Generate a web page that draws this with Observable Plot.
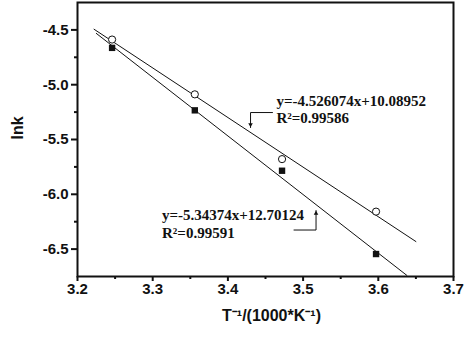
<!DOCTYPE html>
<html><head><meta charset="utf-8">
<script src="https://cdn.jsdelivr.net/npm/d3@7"></script>
<script src="https://cdn.jsdelivr.net/npm/@observablehq/plot@0.6"></script>
<style>body{margin:0;background:#fff} svg{display:block}</style>
</head><body><div id="chart"></div>
<script>
// data
const tempInv = [3.246, 3.356, 3.472, 3.597];
const lnkCircle = [-4.588, -5.088, -5.679, -6.158];
const lnkSquare = [-4.664, -5.234, -5.785, -6.545];
// fitted line end points
const fitCircleX = [3.222, 3.650];
const fitCircleY = [-4.494, -6.431];
const fitSquareX = [3.225, 3.638];
const fitSquareY = [-4.532, -6.740];
// ticks
const xTicks = [3.2, 3.3, 3.4, 3.5, 3.6, 3.7];
const xMinorTicks = [3.25, 3.35, 3.45, 3.55, 3.65];
const yTicks = [-6.5, -6.0, -5.5, -5.0, -4.5];
const yMinorTicks = [-6.25, -5.75, -5.25, -4.75];
// annotations
const eqLabels = ["y=-4.526074x+10.08952", "R²=0.99586", "y=-5.34374x+12.70124", "R²=0.99591"];
const eqX = [3.4646, 3.4646, 3.3124, 3.3124];
const eqY = [-5.194, -5.354, -6.239, -6.399];
const arrow1X = [3.4593, 3.4301, 3.4301];
const arrow1Y = [-5.254, -5.254, -5.391];
const arrow2X = [3.4879, 3.5172, 3.5172];
const arrow2Y = [-6.326, -6.326, -6.148];
const xLabel = "T⁻¹/(1000*K⁻¹)";
const yLabel = "lnk";

const pts = tempInv.map((x, i) => ({x, c: lnkCircle[i], s: lnkSquare[i]}));
const fit1 = fitCircleX.map((x, i) => ({x, y: fitCircleY[i]}));
const fit2 = fitSquareX.map((x, i) => ({x, y: fitSquareY[i]}));
const eq = eqLabels.map((t, i) => ({t, x: eqX[i], y: eqY[i]}));
const ar1 = arrow1X.map((x, i) => ({x, y: arrow1Y[i]}));
const ar2 = arrow2X.map((x, i) => ({x, y: arrow2Y[i]}));
const tip1 = ar1.slice(-1);
const tip2 = ar2.slice(-1);

const sans = "Liberation Sans, Arial, sans-serif";
const serif = "Liberation Serif, Times New Roman, serif";

const chart = Plot.plot({
  width: 474,
  height: 340,
  marginLeft: 77,
  marginRight: 21,
  marginTop: 2,
  marginBottom: 64,
  style: {fontFamily: sans, background: "#fff", color: "#111"},
  x: {domain: [3.2, 3.7]},
  y: {domain: [-6.75, -4.25]},
  marks: [
    Plot.axisX(xTicks, {tickSize: 5, tickPadding: 2, strokeWidth: 2, fontSize: 15, fontWeight: "bold", label: null, tickFormat: d => d.toFixed(1)}),
    Plot.axisX(xMinorTicks, {tickSize: 3, strokeWidth: 2, text: null, label: null}),
    Plot.axisY(yTicks, {tickSize: 6, tickPadding: 3, strokeWidth: 2, fontSize: 15, fontWeight: "bold", label: null, tickFormat: d => d.toFixed(1)}),
    Plot.axisY(yMinorTicks, {tickSize: 3, strokeWidth: 2, text: null, label: null}),
    Plot.frame({stroke: "#111", strokeWidth: 2}),
    Plot.line(fit1, {x: "x", y: "y", stroke: "#111", strokeWidth: 1}),
    Plot.line(fit2, {x: "x", y: "y", stroke: "#111", strokeWidth: 1}),
    Plot.dot(pts, {x: "x", y: "c", r: 3.6, stroke: "#111", fill: "#fff", strokeWidth: 1}),
    Plot.dot(pts, {x: "x", y: "s", r: 3.6, symbol: "square", fill: "#111"}),
    Plot.line(ar1, {x: "x", y: "y", stroke: "#111", strokeWidth: 1}),
    Plot.line(ar2, {x: "x", y: "y", stroke: "#111", strokeWidth: 1}),
    Plot.dot(tip1, {x: "x", y: "y", symbol: "triangle2", r: 2.2, rotate: 180, dy: -3, fill: "#111"}),
    Plot.dot(tip2, {x: "x", y: "y", symbol: "triangle2", r: 2.2, dy: 3, fill: "#111"}),
    Plot.text(eq, {x: "x", y: "y", text: "t", textAnchor: "start", lineAnchor: "bottom", fontSize: 15, fontWeight: "bold", fontFamily: serif, fill: "#111"}),
    Plot.text([yLabel], {text: d => d, frameAnchor: "left", dx: -59.5, rotate: -90, fontSize: 16, fontWeight: "bold", fill: "#111"}),
    Plot.text([xLabel], {text: d => d, frameAnchor: "bottom", dx: 6, dy: 44, lineAnchor: "bottom", fontSize: 16, fontWeight: "bold", fill: "#111"})
  ]
});
document.getElementById("chart").appendChild(chart);
</script>
</body></html>
